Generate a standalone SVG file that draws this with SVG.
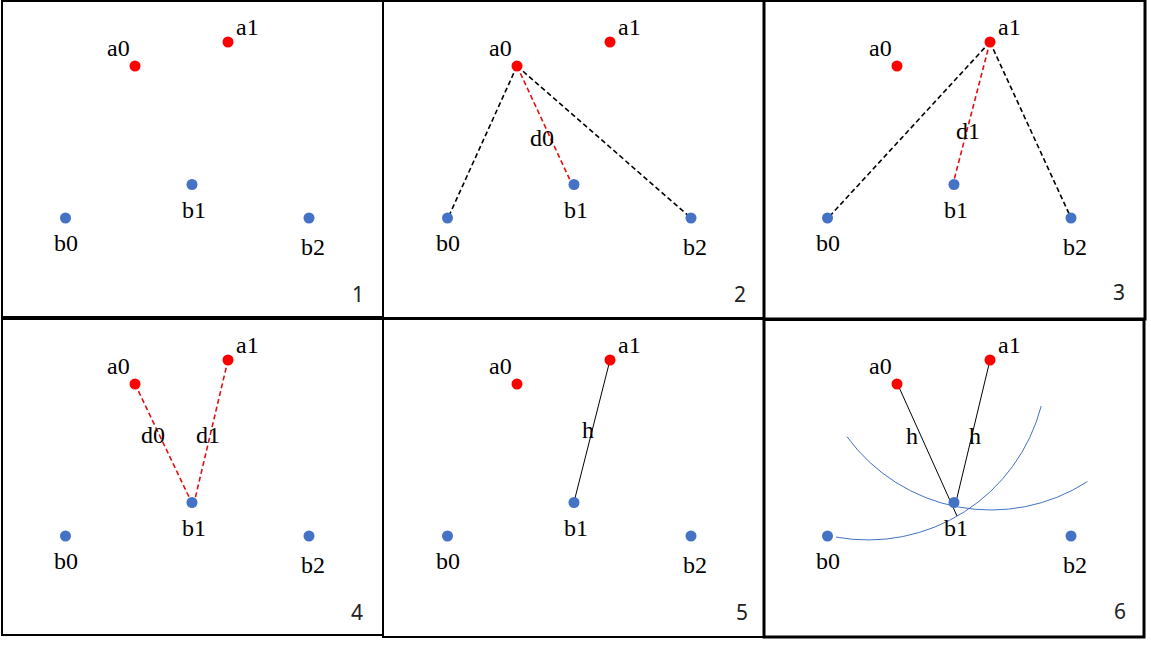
<svg xmlns="http://www.w3.org/2000/svg" width="1151" height="648" viewBox="0 0 1151 648">
<style>
.frame{fill:none;stroke:#000;stroke-width:2}
.thick{stroke-width:3}
.ra{fill:#ff0000}
.bl{fill:#4472c4}
.lbl{font-family:"Liberation Serif","Times New Roman",serif;font-size:24px;fill:#000}
.num{font-family:"Noto Sans","Liberation Sans",sans-serif;font-size:21px;fill:#222}
.dk{stroke:#000;stroke-width:1.6;stroke-dasharray:5 3;fill:none}
.dr{stroke:#e01010;stroke-width:1.6;stroke-dasharray:5 3;fill:none}
.sl{stroke:#000;stroke-width:1;fill:none}
.arc{stroke:#4472c4;stroke-width:1;fill:none}
</style>
<defs>
<g id="pts">
<circle class="ra" cx="135" cy="66" r="5.5"/>
<circle class="ra" cx="228" cy="42" r="5.5"/>
<circle class="bl" cx="65.5" cy="218" r="5.5"/>
<circle class="bl" cx="192" cy="184.5" r="5.5"/>
<circle class="bl" cx="309" cy="218" r="5.5"/>
</g>
<g id="labs">
<text class="lbl" x="107" y="56">a0</text>
<text class="lbl" x="236" y="35">a1</text>
<text class="lbl" x="54" y="251">b0</text>
<text class="lbl" x="182" y="218">b1</text>
<text class="lbl" x="301" y="255">b2</text>
</g>
</defs>

<g id="panel1">
<rect class="frame" x="2" y="1" width="381" height="316"/>
<use href="#pts"/>
<use href="#labs"/>
<text class="num" x="352" y="302">1</text>
</g>

<g id="panel2">
<rect class="frame" x="383" y="1" width="381" height="317"/>
<g id="conn2">
<line class="dk" x1="517" y1="66" x2="448" y2="218"/>
<line class="dk" x1="517" y1="66" x2="691" y2="218"/>
<line class="dr" x1="517" y1="66" x2="570" y2="180"/>
</g>
<g transform="translate(382,0)"><use href="#pts"/><use href="#labs"/></g>
<text class="lbl" x="530" y="146">d0</text>
<text class="num" x="734" y="302">2</text>
</g>

<g id="panel3">
<rect class="frame thick" x="764" y="0.5" width="381" height="318.5"/>
<g id="conn3">
<line class="dk" x1="990" y1="42" x2="828" y2="218"/>
<line class="dk" x1="990" y1="42" x2="1071" y2="218"/>
<line class="dr" x1="990" y1="42" x2="954" y2="180"/>
</g>
<g transform="translate(762,0)"><use href="#pts"/><use href="#labs"/></g>
<text class="lbl" x="956" y="139">d1</text>
<text class="num" x="1113" y="300">3</text>
</g>

<g id="panel4">
<rect class="frame" x="2" y="319" width="381" height="316"/>
<g id="conn4">
<line class="dr" x1="135" y1="384" x2="190" y2="499"/>
<line class="dr" x1="228" y1="360" x2="195" y2="499"/>
</g>
<g transform="translate(0,318)"><use href="#pts"/><use href="#labs"/></g>
<text class="lbl" x="141" y="443">d0</text>
<text class="lbl" x="196" y="443">d1</text>
<text class="num" x="351" y="620">4</text>
</g>

<g id="panel5">
<rect class="frame" x="383" y="319" width="381" height="318"/>
<g id="conn5">
<line class="sl" x1="610" y1="360" x2="574" y2="502"/>
</g>
<g transform="translate(382,318)"><use href="#pts"/><use href="#labs"/></g>
<text class="lbl" x="582" y="438">h</text>
<text class="num" x="736" y="620">5</text>
</g>

<g id="panel6">
<rect class="frame thick" x="764" y="319.5" width="380" height="317.5"/>
<g id="conn6">
<path class="arc" d="M847,436.7 A178,178 0 0 0 1087.4,481.6"/>
<path class="arc" d="M836,537.1 A179,179 0 0 0 1041.2,406.1"/>
<line class="sl" x1="898" y1="385" x2="957" y2="516"/>
<line class="sl" x1="990" y1="360" x2="955" y2="506"/>
</g>
<g transform="translate(762,318)"><use href="#pts"/><use href="#labs"/></g>
<text class="lbl" x="906" y="444">h</text>
<text class="lbl" x="969" y="444">h</text>
<text class="num" x="1114" y="619">6</text>
</g>
</svg>
